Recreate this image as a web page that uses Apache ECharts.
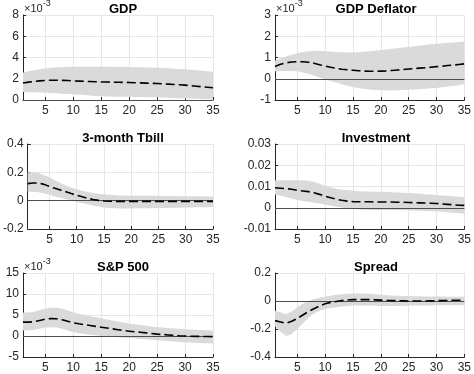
<!DOCTYPE html>
<html>
<head>
<meta charset="utf-8">
<script src="https://cdn.jsdelivr.net/npm/echarts@6/dist/echarts.min.js"></script>
<style>html,body{margin:0;padding:0;background:#fff}#c{width:474px;height:374px}</style>
</head>
<body>
<div id="c"></div>
<script>
const steps = [1,2,3,4,5,6,7,8,9,10,11,12,13,14,15,16,17,18,19,20,21,22,23,24,25,26,27,28,29,30,31,32,33,34,35];
const xTicks = [5,10,15,20,25,30,35];

const titles = ['GDP','GDP Deflator','3-month Tbill','Investment','S&P 500','Spread'];
const scaleNote = [true,true,false,false,true,false];

// GDP (x10^-3)
const gdpMed = [1.6,1.68,1.75,1.8,1.84,1.86,1.86,1.85,1.83,1.8,1.78,1.76,1.74,1.72,1.7,1.69,1.68,1.67,1.66,1.65,1.63,1.61,1.59,1.57,1.55,1.52,1.49,1.46,1.43,1.4,1.35,1.3,1.25,1.2,1.15];
const gdpHi = [2.6,2.7,2.8,2.9,2.97,3.03,3.08,3.1,3.12,3.13,3.13,3.13,3.13,3.13,3.13,3.12,3.12,3.11,3.1,3.1,3.09,3.08,3.07,3.05,3.03,3.01,2.98,2.95,2.92,2.89,2.85,2.8,2.76,2.71,2.66];
const gdpLo = [0.75,0.74,0.73,0.72,0.7,0.67,0.63,0.6,0.57,0.54,0.5,0.46,0.42,0.38,0.35,0.33,0.32,0.31,0.3,0.3,0.29,0.28,0.27,0.26,0.25,0.23,0.21,0.19,0.17,0.15,0.13,0.11,0.09,0.07,0.05];

// GDP Deflator (x10^-3)
const defMed = [0.58,0.68,0.75,0.79,0.8,0.8,0.78,0.73,0.66,0.6,0.54,0.49,0.45,0.42,0.4,0.38,0.36,0.35,0.35,0.36,0.37,0.39,0.41,0.43,0.46,0.48,0.5,0.52,0.54,0.57,0.59,0.62,0.64,0.67,0.7];
const defHi = [0.85,0.95,1.05,1.13,1.2,1.26,1.3,1.31,1.31,1.3,1.28,1.26,1.25,1.24,1.24,1.25,1.27,1.29,1.32,1.35,1.38,1.41,1.44,1.47,1.5,1.53,1.56,1.59,1.62,1.65,1.67,1.69,1.71,1.73,1.75];
const defLo = [0.35,0.36,0.37,0.37,0.35,0.3,0.23,0.14,0.06,-0.02,-0.1,-0.18,-0.26,-0.33,-0.39,-0.44,-0.48,-0.51,-0.53,-0.54,-0.55,-0.55,-0.54,-0.53,-0.52,-0.51,-0.49,-0.47,-0.45,-0.43,-0.4,-0.37,-0.34,-0.3,-0.25];

// 3-month Tbill
const tbMed = [0.12,0.125,0.125,0.115,0.1,0.087,0.075,0.063,0.05,0.038,0.027,0.017,0.008,0.002,-0.002,-0.004,-0.005,-0.005,-0.005,-0.005,-0.005,-0.005,-0.005,-0.005,-0.005,-0.005,-0.005,-0.005,-0.005,-0.005,-0.005,-0.005,-0.005,-0.005,-0.005];
const tbHi = [0.2,0.2,0.195,0.18,0.165,0.145,0.125,0.107,0.092,0.08,0.07,0.061,0.054,0.048,0.044,0.041,0.039,0.037,0.036,0.035,0.035,0.035,0.034,0.034,0.034,0.033,0.033,0.033,0.032,0.032,0.032,0.031,0.031,0.03,0.03];
const tbLo = [0.065,0.063,0.06,0.052,0.042,0.03,0.02,0.01,0.0,-0.01,-0.018,-0.026,-0.034,-0.042,-0.048,-0.052,-0.054,-0.055,-0.055,-0.055,-0.054,-0.054,-0.053,-0.053,-0.052,-0.052,-0.051,-0.05,-0.05,-0.049,-0.048,-0.047,-0.047,-0.046,-0.045];

// Investment
const invMed = [0.0094,0.0092,0.009,0.0087,0.0082,0.0079,0.0076,0.0071,0.0063,0.0054,0.0047,0.004,0.0035,0.0031,0.0029,0.0028,0.0028,0.0028,0.0027,0.0027,0.0027,0.0027,0.0026,0.0026,0.0025,0.0024,0.0023,0.0022,0.0021,0.002,0.0018,0.0016,0.0014,0.0012,0.0011];
const invHi = [0.0128,0.0129,0.013,0.013,0.013,0.013,0.0127,0.0121,0.0113,0.0104,0.0096,0.009,0.0085,0.0082,0.008,0.0078,0.0077,0.0076,0.0075,0.0075,0.0074,0.0073,0.0072,0.0071,0.007,0.0068,0.0066,0.0064,0.0062,0.006,0.0058,0.0056,0.0054,0.0052,0.005];
const invLo = [0.0062,0.0057,0.0051,0.0044,0.0037,0.0032,0.0028,0.0024,0.002,0.0015,0.001,0.0005,0.0001,-0.0003,-0.0006,-0.0008,-0.0009,-0.001,-0.001,-0.0011,-0.0011,-0.0011,-0.0012,-0.0012,-0.0012,-0.0013,-0.0014,-0.0015,-0.0016,-0.0017,-0.0019,-0.0021,-0.0023,-0.0025,-0.0028];

// S&P 500 (x10^-3)
const spMed = [3.3,3.3,3.4,3.7,4.0,4.15,4.1,3.85,3.5,3.15,2.9,2.7,2.5,2.3,2.1,1.9,1.7,1.5,1.3,1.15,1.0,0.9,0.75,0.6,0.45,0.35,0.25,0.15,0.07,0.0,-0.05,-0.08,-0.11,-0.13,-0.15];
const spHi = [5.6,5.6,5.8,6.2,6.5,6.7,6.7,6.5,6.1,5.6,5.3,5.0,4.7,4.45,4.2,3.95,3.7,3.45,3.2,3.0,2.8,2.6,2.45,2.25,2.1,2.0,1.9,1.8,1.7,1.6,1.55,1.5,1.4,1.35,1.3];
const spLo = [1.3,1.35,1.5,1.75,2.0,2.1,2.0,1.7,1.3,0.9,0.65,0.45,0.3,0.15,0.0,-0.1,-0.2,-0.3,-0.4,-0.5,-0.6,-0.7,-0.8,-0.9,-1.0,-1.1,-1.2,-1.3,-1.4,-1.5,-1.55,-1.6,-1.7,-1.75,-1.8];

// Spread
const sprMed = [-0.14,-0.15,-0.16,-0.145,-0.125,-0.1,-0.075,-0.055,-0.035,-0.02,-0.01,-0.003,0.003,0.007,0.01,0.01,0.01,0.01,0.008,0.006,0.004,0.003,0.002,0.001,0.0,0.0,0.0,0.0,0.001,0.002,0.003,0.004,0.005,0.005,0.005];
const sprHi = [-0.07,-0.08,-0.095,-0.075,-0.045,-0.02,0.0,0.013,0.023,0.031,0.038,0.044,0.049,0.052,0.054,0.055,0.054,0.052,0.048,0.044,0.041,0.039,0.037,0.036,0.035,0.034,0.034,0.033,0.033,0.032,0.032,0.031,0.031,0.03,0.03];
const sprLo = [-0.18,-0.22,-0.25,-0.235,-0.2,-0.16,-0.12,-0.09,-0.07,-0.058,-0.05,-0.044,-0.04,-0.036,-0.033,-0.032,-0.032,-0.033,-0.034,-0.035,-0.035,-0.035,-0.035,-0.034,-0.034,-0.033,-0.033,-0.032,-0.032,-0.031,-0.031,-0.03,-0.03,-0.03,-0.03];

const yMin = [0,-1,-0.2,-0.01,-5,-0.4];
const yMax = [8,3,0.4,0.03,15,0.2];
const yStep = [2,1,0.2,0.01,5,0.2];

const panels = [
  [gdpMed, gdpLo, gdpHi],
  [defMed, defLo, defHi],
  [tbMed, tbLo, tbHi],
  [invMed, invLo, invHi],
  [spMed, spLo, spHi],
  [sprMed, sprLo, sprHi]
];

// layout
const gridLefts = [23, 275];
const gridWidths = [190, 192];
const gridTops = [15, 144, 273];
const gridH = 85;

const axisColor = '#262626';
const font = 'Liberation Sans, Arial, Helvetica, sans-serif';

const option = {
  animation: false,
  backgroundColor: '#fff',
  title: [], grid: [], xAxis: [], yAxis: [], series: [], graphic: []
};

panels.forEach((p, k) => {
  const col = k % 2, row = Math.floor(k / 2);
  const left = gridLefts[col], width = gridWidths[col], top = gridTops[row];
  option.grid.push({left: left, top: top, width: width, height: gridH, containLabel: false});
  option.title.push({
    text: titles[k], left: left + width / 2, top: top - 17, textAlign: 'center',
    textStyle: {fontFamily: font, fontSize: 13, fontWeight: 'bold', color: '#000'}
  });
  option.xAxis.push({
    type: 'value', gridIndex: k, min: 1, max: 35,
    axisLine: {show: true, onZero: false, lineStyle: {color: axisColor, width: 1}},
    axisTick: {show: true, inside: true, length: 3, customValues: xTicks, lineStyle: {color: axisColor}},
    axisLabel: {customValues: xTicks, color: axisColor, fontSize: 12, fontFamily: font, margin: 5},
    splitLine: {show: true, lineStyle: {color: '#e6e6e6', width: 1}}
  });
  option.yAxis.push({
    type: 'value', gridIndex: k, min: yMin[k], max: yMax[k], interval: yStep[k],
    axisLine: {show: true, lineStyle: {color: axisColor, width: 1}},
    axisTick: {show: true, inside: true, length: 3, lineStyle: {color: axisColor}},
    axisLabel: {color: axisColor, fontSize: 12, fontFamily: font, margin: 4},
    splitLine: {show: true, lineStyle: {color: '#e6e6e6', width: 1}}
  });
  const med = p[0], lo = p[1], hi = p[2];
  option.series.push({
    type: 'custom', xAxisIndex: k, yAxisIndex: k, silent: true, z: 1,
    data: steps.map((s, i) => [s, lo[i], hi[i]]),
    encode: {x: 0, y: [1, 2]},
    renderItem: function (params, api) {
      if (params.dataIndex !== 0) return null;
      const pts = [];
      for (let i = 0; i < steps.length; i++) pts.push(api.coord([steps[i], hi[i]]));
      for (let i = steps.length - 1; i >= 0; i--) pts.push(api.coord([steps[i], lo[i]]));
      return {type: 'polygon', shape: {points: pts}, style: {fill: '#dadada'}};
    }
  });
  option.series.push({
    type: 'line', xAxisIndex: k, yAxisIndex: k, silent: true, z: 3,
    data: steps.map((s, i) => [s, med[i]]),
    symbol: 'none', smooth: false,
    lineStyle: {color: '#000', width: 1.6, type: [9, 4]},
    markLine: {
      silent: true, symbol: 'none', label: {show: false},
      lineStyle: {color: '#4d4d4d', width: 1, type: 'solid'},
      data: [{yAxis: 0}], z: 2
    }
  });
  if (scaleNote[k]) {
    option.graphic.push({
      type: 'text', left: left + 1, top: top - 16, z: 10,
      style: {
        text: '{a|×10}{b|-3}',
        rich: {
          a: {fontSize: 11, fontFamily: font, fill: axisColor, verticalAlign: 'bottom', lineHeight: 15},
          b: {fontSize: 9, fontFamily: font, fill: axisColor, verticalAlign: 'top', lineHeight: 15, padding: [0,0,8,0]}
        }
      }
    });
  }
});

const chart = echarts.init(document.getElementById('c'), null, {renderer: 'canvas'});
chart.setOption(option);
</script>
</body>
</html>
